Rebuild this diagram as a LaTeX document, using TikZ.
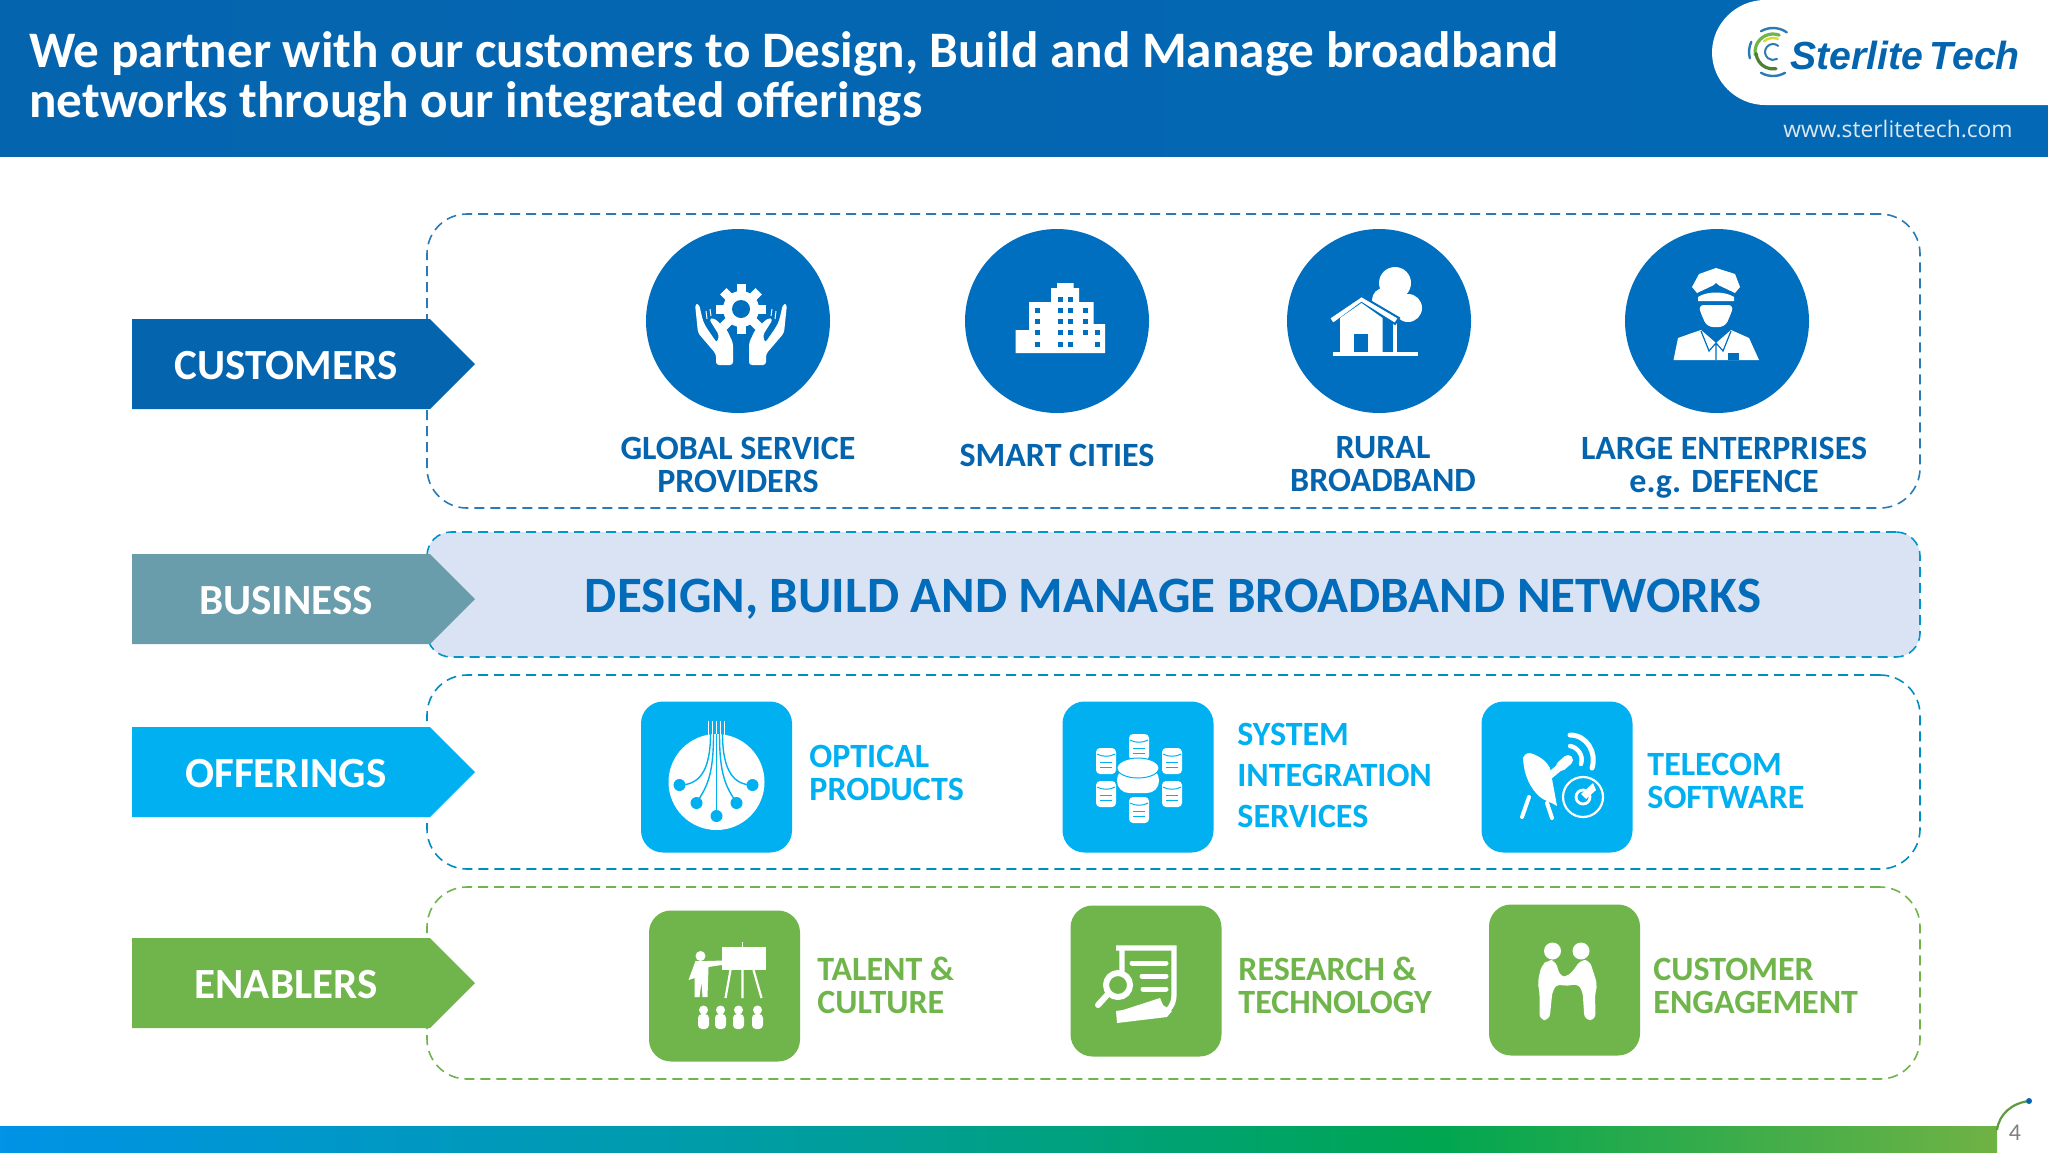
\documentclass[tikz,border=0pt]{standalone}
\usepackage{fontspec}
\setmainfont{Carlito}
\newfontfamily\urlfont{Open Sans}
\newfontfamily\logofont{Liberation Sans}
\usetikzlibrary{positioning,shapes.symbols}
\definecolor{headblue}{HTML}{0564AE}
\definecolor{circblue}{HTML}{006FBF}
\definecolor{skyblue}{HTML}{00B0F0}
\definecolor{leafgreen}{HTML}{70B54B}
\definecolor{greyblue}{HTML}{6A9DAC}
\definecolor{paleblue}{HTML}{DAE3F3}
\definecolor{boxblue}{HTML}{2A7AB5}
\definecolor{footblue}{HTML}{0093E6}
\definecolor{footteal}{HTML}{009DA0}
\definecolor{footgreen}{HTML}{00A651}
\definecolor{footend}{HTML}{70B244}
\pgfdeclarehorizontalshading{footbar}{100bp}{color(0bp)=(footblue); color(25bp)=(footblue); color(45bp)=(footteal);
  color(61bp)=(footgreen); color(75bp)=(footend); color(100bp)=(footend)}

\begin{document}
\begin{tikzpicture}[x=0.5pt,y=-0.5pt,
    row box/.style={rectangle,rounded corners=#1,draw,dashed,dash pattern=on 5pt off 3pt,line width=0.8pt,
                    minimum width=746.5pt,inner sep=0pt,outer sep=0pt},
    row box/.default=20pt,
    tag node/.style={signal,signal to=east,signal pointer angle=90,text=white,font=\fontsize{21.5}{21.5}\selectfont\bfseries,
                     text width=149pt,minimum height=45pt,inner sep=0pt,outer sep=0pt,align=center,
                     text height=15pt,text depth=0pt,execute at begin node=\hspace*{5pt}},
    cust node/.style={circle,fill=circblue,minimum size=92pt,inner sep=0pt,outer sep=0pt},
    cust text/.style={text=headblue,font=\fontsize{17}{16.5}\selectfont\bfseries,align=center,inner sep=0pt},
    tile node/.style={rectangle,rounded corners=11pt,minimum size=75.5pt,inner sep=0pt,outer sep=0pt,fill=#1},
    side text/.style={anchor=west,text=#1,font=\fontsize{17}{16.5}\selectfont\bfseries,align=left,inner sep=0pt}]

  \useasboundingbox (0,0) rectangle (2048,1152);
  \fill[white] (0,0) rectangle (2048,1152);

  % header
  \shade[left color=headblue,right color=headblue!60!circblue] (0,0) rectangle (2048,156);
  \fill[white] (2048,0) -- (1765,0) .. controls (1736,0) and (1712,24) .. (1712,52.5)
    .. controls (1712,81) and (1736,105) .. (1765,105) -- (2048,105) -- cycle;
  \node[anchor=west,text=white,inner sep=0pt,align=left,font=\fontsize{25.6}{24.8}\selectfont\bfseries] (title) at (29,79)
    {We partner with our customers to Design, Build and Manage broadband\\networks through our integrated offerings};
  \node[text=headblue,inner sep=0pt,font=\logofont\fontsize{19.6}{19.6}\selectfont\bfseries\itshape] (logo) at (1905,55) {Sterlite\,Tech};
  \node[text=white!85!headblue,inner sep=0pt,font=\urlfont\fontsize{11.4}{11.4}\selectfont] (url) at (1898,129) {www.sterlitetech.com};
  \begin{scope}[shift={(1773,52)},line cap=round]
    \draw[boxblue,line width=1.2pt] (-120:24) arc (-120:-55:24);
    \draw[boxblue,line width=1.2pt] (165:24) arc (165:205:24);
    \draw[boxblue,line width=1.2pt] (60:24) arc (60:120:24);
    \draw[leafgreen,line width=1.6pt] (-70:18) arc (-70:-190:18);
    \draw[yellow!70!leafgreen,line width=1.2pt] (-70:14) arc (-70:-130:14);
    \draw[leafgreen!70!black,line width=1.6pt] (175:17) arc (175:80:17);
    \draw[boxblue,line width=1pt] (-50:8) arc (-50:-300:8);
  \end{scope}

  % rows
  \node[row box=20pt,draw=boxblue,minimum height=147pt] (custbox) at (1173.5,361) {};
  \node[row box=12pt,draw=skyblue!85!black,fill=paleblue,minimum height=62.5pt] (busbox) at (1173.5,594.5) {};
  \node[row box=20pt,draw=skyblue!80!black,minimum height=97pt] (offbox) at (1173.5,772) {};
  \node[row box=20pt,draw=leafgreen,minimum height=96pt] (enabox) at (1173.5,983) {};

  \node[tag node,fill=headblue] (customers) at (281,364) {CUSTOMERS};
  \node[tag node,fill=greyblue] (bus) at (281,599) {BUSINESS};
  \node[tag node,fill=skyblue] (offerings) at (281,772) {OFFERINGS};
  \node[tag node,fill=leafgreen] (enablers) at (281,983) {ENABLERS};

  \node[text=circblue!70!headblue,inner sep=0pt,font=\fontsize{25.5}{25.5}\selectfont\bfseries] (bustext) at (1173,599)
    {DESIGN, BUILD AND MANAGE BROADBAND NETWORKS};

  % customers
  \node[cust node] (global) at (738,321) {};
  \node[cust node] (smart) [right of=global,node distance=159.5pt] {};
  \node[cust node] (rural) [right of=smart,node distance=161pt] {};
  \node[cust node] (large) [right of=rural,node distance=169pt] {};
  \node[cust text] (globaltext) at (738,464.5) {GLOBAL SERVICE\\PROVIDERS};
  \node[cust text] (smarttext) at (1057,455) {SMART CITIES};
  \node[cust text] (ruraltext) at (1383,464.5) {RURAL\\BROADBAND};
  \node[cust text] (largetext) at (1724,467.5) {LARGE ENTERPRISES\\e.g. DEFENCE};

  \begin{scope}[shift={(global.center)}]
    \foreach \a in {0,45,...,315}
      \fill[white,shift={(3,-12)},rotate=\a] (-4.5,-25) rectangle (4.5,-14);
    \fill[white] (3,-12) circle (18);
    \fill[circblue] (3,-12) circle (9);
    \foreach \s in {1,-1} {
      \begin{scope}[shift={(3,0)},xscale=\s]
        \fill[white,rounded corners=1.5pt] (-46,-17) -- (-42,-17) -- (-38,0) -- (-35,6) -- (-24,22) -- (-22,14)
          -- (-32,-2) -- (-27,-3) -- (-14,9) -- (-8,22) -- (-8,44) -- (-25,44) -- (-25,33) -- (-43,12) -- cycle;
        \draw[white,line width=0.5pt] (-35,-10) -- (-34,-2) (-31,-12) -- (-30,-5);
      \end{scope}
    }
  \end{scope}

  \begin{scope}[shift={(smart.center)}]
    \fill[white] (-41.5,32) -- (-41.5,9) -- (-28,9) -- (-28,-19) -- (-6,-19) -- (-6,-33) -- (0,-33) -- (0,-38) -- (16.5,-38)
      -- (16.5,-33) -- (22,-33) -- (22,-19) -- (36.5,-19) -- (36.5,3) -- (48,3) -- (48,32) -- cycle;
    \foreach \x/\y in {-20/-11,-20/0,-20/11,-20/23,3/-22,13/-22,3/-11,13/-11,3/0,13/0,3/11,13/11,3/23,13/23,28/-11,28/0,28/11,40/11,40/23}
      \fill[circblue] (\x-2.5,\y-2.5) rectangle (\x+2.5,\y+2.5);
  \end{scope}

  \begin{scope}[shift={(rural.center)}]
    \fill[white] (16,-38) circle (16) (29,-13) circle (14) (5,-21) circle (12) (15,-15) circle (14);
    \fill[white] (14,-6) rectangle (18,32);
    \fill[white,draw=circblue,line width=1pt] (-50,-3) -- (-17.5,-25) -- (20,-3) -- (16,3) -- (-17.5,-18) -- (-46,3) -- cycle;
    \fill[white] (-39,-3) -- (-17.5,-18) -- (3.5,-3) -- (3.5,32) -- (-39,32) -- cycle;
    \fill[circblue] (-25,13) rectangle (-11,31);
    \fill[white] (-46,31) rectangle (39,35);
  \end{scope}

  \begin{scope}[shift={(large.center)}]
    \fill[white] (-1,-53) -- (-18,-47) -- (-25,-34) -- (-20,-28) -- (-1,-37) -- (18,-28) -- (23,-34) -- (18,-47) -- cycle;
    \fill[circblue] (-1,-38) -- (-5,-34) -- (-1,-30) -- (3,-34) -- cycle;
    \fill[white] (-19,-20) -- (-19,-24) .. controls (-10,-30) and (8,-30) .. (17,-24) -- (17,-20) -- cycle;
    \fill[white,rounded corners=3pt] (-19,-16) -- (17,-16) -- (13,-5) -- (8,6) -- (-10,6) -- (-15,-5) -- cycle;
    \fill[white] (-43.5,39) -- (-39,17) -- (-25,12) -- (-16,9) -- (-1,22) -- (14,9) -- (32,17) -- (42,39) -- cycle;
    \draw[circblue,line width=0.6pt] (-1,22) -- (-1,39) (-16,10) -- (-8,30) -- (-1,22) -- (6,30) -- (14,10);
    \fill[circblue] (11,32) rectangle (22,39);
  \end{scope}

  % offerings
  \node[tile node=skyblue] (optical) at (716.5,777) {};
  \node[tile node=skyblue] (system) [right of=optical,node distance=210.75pt] {};
  \node[tile node=skyblue] (telecom) [right of=system,node distance=209.5pt] {};
  \node[side text=skyblue] (opticaltext) at (809,772.5) {OPTICAL\\PRODUCTS};
  \node[side text=skyblue,font=\fontsize{17}{20.5}\selectfont\bfseries] (systemtext) at (1237,775) {SYSTEM\\INTEGRATION\\SERVICES};
  \node[side text=skyblue] (telecomtext) at (1647,780.5) {TELECOM\\SOFTWARE};

  \begin{scope}[shift={(optical.center)}]
    \fill[white] (0,5) circle (48);
    \foreach \x in {-8,-4,0,4,8}
      \draw[white,line width=0.8pt] (\x,-56) -- (\x,-42);
    \draw[skyblue,line width=0.7pt] (-6,-43) .. controls (-6,-5) and (-18,8) .. (-37,8);
    \draw[skyblue,line width=0.7pt] (-3,-43) .. controls (-3,0) and (-10,10) .. (-20,26);
    \draw[skyblue,line width=0.7pt] (0,-43) -- (0,39);
    \draw[skyblue,line width=0.7pt] (3,-43) .. controls (3,0) and (10,10) .. (20,26);
    \draw[skyblue,line width=0.7pt] (6,-43) .. controls (6,-5) and (18,8) .. (36,8);
    \foreach \x/\y in {-37/8,-20/26,0/39,20/26,36/8}
      \fill[skyblue] (\x,\y) circle (6);
  \end{scope}

  \begin{scope}[shift={(system.center)}]
    \foreach \x/\y in {1/-30,-32/-16,34/-16,-32/17,34/17,1/33} {
      \fill[white,rounded corners=2pt] (\x-10,\y-13) rectangle (\x+10,\y+13);
      \draw[skyblue,line width=0.5pt] (\x-9,\y-7) .. controls (\x-4,\y-4) and (\x+4,\y-4) .. (\x+9,\y-7);
      \draw[skyblue,line width=0.5pt] (\x-6,\y+1) -- (\x+6,\y+1) (\x-6,\y+6) -- (\x+6,\y+6);
    }
    \fill[white,rounded corners=6pt] (-21,-9) rectangle (21,16);
    \fill[white,draw=skyblue,line width=0.5pt] (0,-9) ellipse (21 and 10);
  \end{scope}

  \begin{scope}[shift={(telecom.center)}]
    \fill[white] (-34,-19) .. controls (-32,-24) and (-28,-25) .. (-24,-23) .. controls (-16,-20) and (-10,-15) .. (-7,-9)
      -- (0,29) .. controls (-6,25) and (-12,24) .. (-17,20) .. controls (-26,12) and (-33,0) .. (-34,-19) -- cycle;
    \draw[white,line width=2pt,line cap=round] (-28,20) -- (-35,40) (-10,26) -- (-5,41);
    \draw[white,line width=3.5pt] (-9,0) -- (3,-10);
    \draw[white,line width=5pt,line cap=round] (4,-11) -- (11,-17);
    \draw[white,line width=2.2pt,line cap=round] (13,-31) .. controls (20,-30) and (27,-22) .. (24,-13);
    \draw[white,line width=2.5pt,line cap=round] (13,-42) .. controls (30,-42) and (40,-24) .. (35,-9);
    \draw[white,line width=1.1pt] (26,20) circle (20);
    \draw[white,line width=1.4pt] (26,20) circle (7);
    \fill[white] (24,17) -- (36,6) -- (39,13) -- (29,22) -- cycle;
  \end{scope}

  % enablers
  \node[tile node=leafgreen] (talent) at (724.5,986) {};
  \node[tile node=leafgreen] (research) at (1146,981) {};
  \node[tile node=leafgreen] (engage) at (1564.5,980) {};
  \node[side text=leafgreen] (talenttext) at (817,985.5) {TALENT \&\\CULTURE};
  \node[side text=leafgreen] (researchtext) at (1238,985.5) {RESEARCH \&\\TECHNOLOGY};
  \node[side text=leafgreen] (engagetext) at (1653,985.5) {CUSTOMER\\ENGAGEMENT};

  \begin{scope}[shift={(talent.center)}]
    \fill[white] (-3,-39) rectangle (41,-16);
    \draw[white,line width=0.8pt] (18,-44) -- (18,-39);
    \draw[white,line width=1.1pt] (6,-16) -- (1,12) (18,-16) -- (18,12) (29,-16) -- (37,12);
    \fill[white] (-24,-30) circle (5);
    \fill[white] (-29,-25) -- (-18,-25) -- (16,-26) -- (16,-24) -- (-16,-19) -- (-17,11) -- (-22,11) -- (-23,-4) -- (-25,11) -- (-30,11) -- (-30,-8) -- (-36,-6) -- cycle;
    \foreach \x in {-21,-4,14,33} {
      \fill[white] (\x,24) circle (4.5);
      \fill[white,rounded corners=2pt] (\x-5.5,28) rectangle (\x+5.5,43);
    }
  \end{scope}

  \begin{scope}[shift={(research.center)}]
    \draw[white,line width=2.6pt] (-24,-10) -- (-24,-33) (-30,-33) -- (28,-33) -- (28,14) .. controls (28,20) and (26,25) .. (22,29);
    \foreach \a/\b/\y in {-14/20/-18,-4/20/-5,-3/20/8}
      \draw[white,line width=2.5pt,line cap=round] (\a,\y) -- (\b,\y);
    \fill[white] (-30,30) -- (-23,29) -- (14,17) -- (17,24) -- (26,30) -- (21,36) -- (-29,42) -- cycle;
    \draw[white,line width=3pt] (-28,4) circle (12);
    \draw[white,line width=3pt,line cap=round] (-38,13) -- (-48,24);
  \end{scope}

  \begin{scope}[shift={(engage.center)}]
    \fill[white] (-12,-29) circle (8.5) (16.5,-29) circle (8.5);
    \fill[white,rounded corners=3pt] (-16,-20) -- (-9.5,-20) -- (-4,-3) -- (2,-3) -- (9.5,-10) -- (15.5,-20) -- (25,-20) -- (33,5)
      -- (30.5,12) -- (31,40) -- (20,40) -- (18,10) -- (12,3) -- (2,7) -- (-6,3) -- (-12,10) -- (-15,40) -- (-25,40)
      -- (-25,10) -- (-27,3) -- (-23,-15) -- cycle;
  \end{scope}

  % footer
  \shade[shading=footbar] (0,1126) rectangle (1997,1152);
  \draw[leafgreen!85!black,line width=1.1pt] (1997,1130) .. controls (1999,1114) and (2012,1103) .. (2029,1101);
  \fill[headblue] (2029,1101) circle (3);
  \node[text=gray,inner sep=0pt,font=\fontsize{12}{12}\selectfont] (pagenum) at (2015,1133) {4};
\end{tikzpicture}
\end{document}
